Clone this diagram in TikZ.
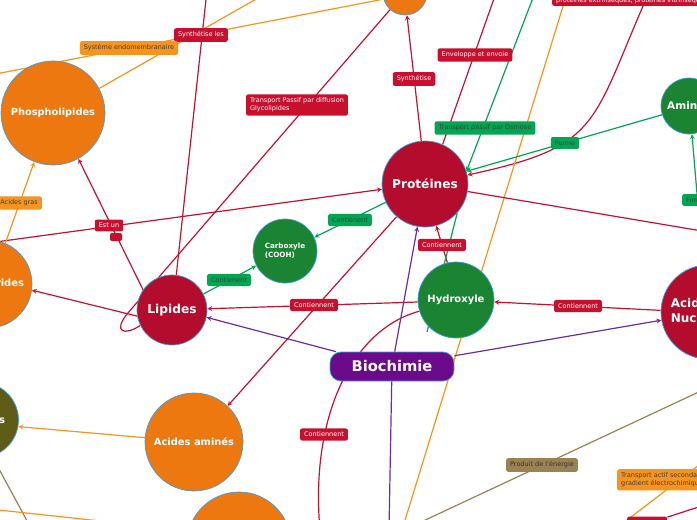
\documentclass[tikz,border=0pt]{standalone}
\usepackage{fontspec}
\setmainfont{DejaVu Sans}
\usetikzlibrary{backgrounds}
\definecolor{crim}{HTML}{B30C2C}
\definecolor{crimlab}{HTML}{C8102E}
\definecolor{crimline}{HTML}{C4122F}
\definecolor{orng}{HTML}{EC780F}
\definecolor{orngline}{HTML}{F7941D}
\definecolor{grn}{HTML}{1B8433}
\definecolor{grnlab}{HTML}{00A651}
\definecolor{olv}{HTML}{5E5C16}
\definecolor{prpl}{HTML}{6B0A8A}
\definecolor{prplline}{HTML}{6E2C9E}
\definecolor{brwn}{HTML}{9C8253}
\definecolor{rim}{HTML}{3E9FE0}
\begin{document}
\begin{tikzpicture}[x=1pt,y=-1pt,
 bubble/.style={circle,draw=rim,line width=0.7pt,text=white,align=center,inner sep=0pt},
 fsz/.style={font=\bfseries\fontsize{#1}{15}\selectfont},
 tag/.style={rounded corners=2pt,inner xsep=4pt,inner ysep=3.5pt,font=\fontsize{6.5}{8}\selectfont,align=left},
 rtag/.style={tag,fill=crimlab,text=white},
 gtag/.style={tag,fill=grnlab,text=black!75},
 otag/.style={tag,fill=orngline,text=black!75},
 btag/.style={tag,fill=brwn,text=black!80},
 rl/.style={draw=crimline,line width=1.2pt},
 ol/.style={draw=orngline,line width=1.2pt},
 gl/.style={draw=grnlab,line width=1.2pt},
 pl/.style={draw=prplline,line width=1.2pt},
 bl/.style={draw=brwn,line width=1.2pt}]
\useasboundingbox (0,0) rectangle (697,520);
\clip (0,0) rectangle (697,520);
\node[bubble,fill=orng,minimum size=104pt,fsz=9.8] (phos) at (53,113) {Phospholipides};
\node[bubble,fill=orng,minimum size=44pt] (top) at (405,-7) {};
\node[bubble,fill=crim,minimum size=86pt,fsz=12.2] (pro) at (425,184) {Protéines};
\node[bubble,fill=grn,minimum size=56pt,fsz=10.5] (ami) at (689,106) {Amines};
\node[bubble,fill=grn,minimum size=64pt,font=\bfseries\fontsize{7.2}{9.3}\selectfont,align=left] (carb) at (285,251) {Carboxyle\\(COOH)};
\node[bubble,fill=crim,minimum size=70pt,fsz=12.2] (lip) at (172,310) {Lipides};
\node[bubble,fill=orng,minimum size=88pt,fsz=10] (tri) at (-12,284) {Triglycérides};
\node[bubble,fill=grn,minimum size=76pt,fsz=10] (hyd) at (456,300) {Hydroxyle};
\node[bubble,fill=crim,minimum size=94pt,fsz=12,align=left] (anu) at (708,312) {Acides\\Nucléiques};
\node[bubble,fill=olv,minimum size=75pt,fsz=10] (glu) at (-19,420) {Glucides};
\node[bubble,fill=orng,minimum size=98pt,fsz=9.9] (aa) at (194,442) {Acides aminés};
\node[bubble,fill=orng,minimum size=104pt] (bot) at (239,544) {};
\node[draw=rim,line width=0.7pt,fill=prpl,rounded corners=11pt,minimum width=124pt,minimum height=29pt,text=white,fsz=14.7] (bio) at (392,366.5) {Biochimie};
\node[rtag] (synles) at (201,35) {Synthétise les};
\node[otag] (endo) at (129,48) {Système endomembranaire};
\node[rtag] (glyco) at (297,105) {Transport Passif par diffusion\\Glycolipides};
\node[rtag] (env) at (475,55) {Enveloppe et envoie};
\node[rtag] (synt) at (414,79) {Synthétise};
\node[rtag,inner ysep=1.5pt,anchor=south west] (ext) at (552,6) {protéines extrinsèques, protéines intrinsèques};
\node[gtag] (osm) at (485,128) {Transport passif par Osmose};
\node[gtag] (forme) at (565,143) {Forme};
\node[gtag,anchor=west] (formeb) at (682,200) {Forme};
\node[gtag] (cont1) at (350,220) {Contienent};
\node[gtag] (cont2) at (229,280) {Contienent};
\node[fill=crimlab,rounded corners=2pt,minimum width=12pt,minimum height=8pt,inner sep=0pt] (estb) at (116,237) {};
\node[rtag] (estun) at (109,225.5) {Est un};
\node[rtag] (cnt1) at (314,305) {Contiennent};
\node[rtag] (cnt2) at (442,245) {Contiennent};
\node[rtag] (cnt3) at (578,306) {Contiennent};
\node[otag,anchor=east] (gras) at (42,203) {Acides gras};
\node[rtag] (cnt4) at (324,434.5) {Contiennent};
\node[btag] (nrj) at (542,465) {Produit de l'énergie};
\node[otag,anchor=north west] (sec) at (617,469) {Transport actif secondaire\\gradient électrochimique};
\node[rtag,anchor=north west,minimum width=40pt,minimum height=14pt] (cut) at (627,516.5) {};
\coordinate (ol1) at (-20,77);
\coordinate (ol2) at (272,-10);
\coordinate (rl1) at (207,-10);
\coordinate (hook) at (127,314);
\coordinate (rl2) at (497,-10);
\coordinate (gl1) at (536,-10);
\coordinate (ex1) at (643,6);
\coordinate (ol3) at (568,-10);
\coordinate (ol4) at (402,530);
\coordinate (rl3) at (720,234);
\coordinate (gl2) at (427,332);
\coordinate (rl4) at (320,530);
\coordinate (pl1) at (389,530);
\coordinate (bl1) at (404,530);
\coordinate (bl2) at (720,382);
\coordinate (bl3) at (32,530);
\coordinate (ol5) at (-20,508);
\coordinate (ol6) at (614,530);
\coordinate (ol7) at (720,449);
\coordinate (rl5) at (720,500);
\begin{scope}[on background layer]
\clip (0,0) rectangle (697,520);
\draw[ol](ol1)--(top.196);
\draw[ol](phos.28)--(ol2);
\draw[rl](lip.83)--(rl1);
\draw[rl](top.228)--(hook)..controls(113,332)and(124,336)..(lip.206);
\draw[rl](pro.66)--(rl2);
\draw[rl,-stealth](pro.95)--(top.-85);
\draw[gl,-stealth](gl1)--(pro.17);
\draw[rl,-stealth](ex1)..controls(591,127)and(597,147)..(pro.12);
\draw[ol](ol3)--(ol4);
\draw[gl,-stealth](ami.198)--(pro.17);
\draw[gl,-stealth](anu.96)--(ami.-84);
\draw[rl](pro.-10)--(rl3);
\draw[rl,-stealth](tri.74)--(pro.187);
\draw[rl,-stealth](lip.145)--(phos.-61);
\draw[ol,-stealth](tri.67)--(phos.-111);
\draw[rl,-stealth](lip.190)--(tri.-8);
\draw[rl,-stealth](pro.229)--(aa.47);
\draw[gl,-stealth](pro.205)--(carb.25);
\draw[gl,-stealth](lip.27)--(carb.207);
\draw[rl,-stealth](hyd.183)--(lip.2);
\draw[rl,-stealth](hyd.103)--(pro.-75);
\draw[gl](gl2)--(pro.-42);
\draw[rl](hyd.197)..controls(350,330)and(310,420)..(rl4);
\draw[rl,-stealth](anu.178)--(hyd.-3);
\draw[pl,-stealth](bio)--(lip.-12);
\draw[pl,-stealth](bio)--(pro.-100);
\draw[pl,-stealth](bio)--(anu.190);
\draw[pl](bio)--(pl1);
\draw[bl](bl1)--(bl2);
\draw[bl](glu.-73)--(bl3);
\draw[ol,-stealth](aa.175)--(glu.-10);
\draw[ol](ol5)--(bot.165);
\draw[ol](ol6)--(ol7);
\draw[rl](cut)--(rl5);
\end{scope}
\end{tikzpicture}
\end{document}
